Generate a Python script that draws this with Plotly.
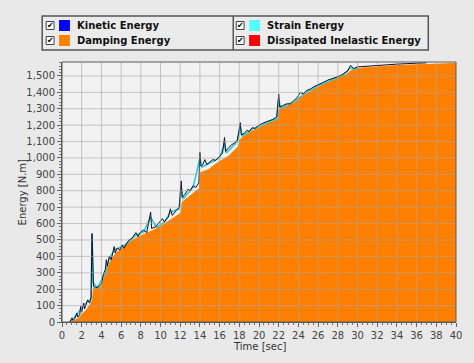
import plotly.graph_objects as go

# ---------------- data ----------------
damp_t = [0.8, 1.2, 1.6, 2.0, 2.5, 2.9, 3.1, 3.2, 3.6, 4.0, 4.5, 5.0, 5.5, 6.0, 6.7,
          7.2, 8.0, 8.8, 9.5, 10.2, 11.0, 11.8, 12.1, 12.2, 12.8, 13.5, 13.95, 14.05,
          14.9, 15.9, 16.9, 17.9, 18.05, 18.6, 19.2, 19.9, 20.8, 21.6, 21.95, 22.05,
          22.8, 23.6, 24.2, 25.0, 25.9, 26.8, 27.6, 28.3, 28.9, 29.3, 29.6, 30.5,
          32.0, 34.0, 36.0, 38.0, 40.0]
damp_e = [0, 6, 20, 42, 75, 110, 135, 205, 205, 215, 310, 380, 420, 445, 480,
          500, 525, 545, 565, 590, 620, 650, 665, 730, 760, 795, 815, 910,
          930, 975, 1010, 1070, 1110, 1140, 1160, 1185, 1210, 1225, 1240, 1295,
          1315, 1335, 1370, 1400, 1430, 1455, 1475, 1495, 1510, 1530, 1540, 1548,
          1555, 1563, 1568, 1572, 1576]

total_t = [0.8, 1.0, 1.1, 1.3, 1.5, 1.6, 1.8, 1.9, 2.0, 2.2, 2.3, 2.5, 2.6, 2.8, 2.95,
           3.05, 3.12, 3.2, 3.6, 4.0, 4.2, 4.4, 4.5, 4.6, 4.8, 5.0, 5.3, 5.4, 5.6, 5.9,
           6.1, 6.3, 6.6, 6.8, 7.1, 7.5, 7.7, 8.0, 8.3, 8.6, 9.0, 9.1, 9.5, 9.8, 10.2,
           10.4, 10.8, 11.0, 11.2, 11.6, 11.9, 12.1, 12.2, 12.5, 12.8, 13.0, 13.3, 13.6,
           13.9, 14.0, 14.1, 14.3, 14.5, 14.7, 15.0, 15.3, 15.6, 16.0, 16.3, 16.5, 16.6,
           16.9, 17.2, 17.5, 17.8, 18.1, 18.2, 18.5, 18.8, 19.0, 19.3, 19.6, 20.0, 20.5,
           21.0, 21.4, 21.8, 22.0, 22.1, 22.4, 22.8, 23.2, 23.6, 23.9, 24.2, 24.5, 24.8,
           25.2, 25.6, 26.0, 26.5, 27.0, 27.5, 28.0, 28.5, 29.0, 29.3, 29.6, 30.0, 31.0,
           32.0, 33.0, 34.0, 35.0, 36.0, 37.0]
total_e = [0, 25, 10, 20, 55, 30, 45, 95, 60, 115, 80, 110, 135, 115, 150,
           540, 260, 215, 210, 230, 290, 320, 380, 340, 400, 380, 460, 420, 450, 440,
           470, 450, 480, 500, 510, 545, 520, 550, 560, 545, 670, 570, 580, 600, 630,
           610, 640, 690, 650, 680, 700, 860, 760, 780, 810, 800, 830, 820,
           850, 1035, 950, 960, 990, 960, 975, 990, 985, 1010, 1030, 1125, 1040,
           1060, 1080, 1090, 1110, 1215, 1140, 1150, 1170, 1160, 1185, 1180, 1200, 1215,
           1225, 1235, 1250, 1390, 1310, 1320, 1330, 1330, 1350, 1370, 1400, 1390, 1410,
           1420, 1435, 1445, 1460, 1475, 1485, 1495, 1510, 1530, 1565, 1545, 1555, 1560,
           1565, 1570, 1572, 1575, 1578, 1580]

strain_t = [0.8, 1.5, 1.9, 2.2, 2.6, 2.95, 3.05, 3.15, 3.6, 4.4, 4.8, 5.3, 6.1, 6.8,
            7.5, 8.3, 9.0, 9.6, 10.4, 11.0, 11.9, 12.1, 12.3, 13.3, 14.0, 14.2, 15.0,
            16.0, 16.5, 16.7, 17.8, 18.1, 18.3, 19.3, 20.5, 21.8, 22.0, 22.2, 23.6,
            24.8, 26.0, 27.5, 28.5, 29.3, 29.6, 30.0]
strain_e = [0, 45, 80, 100, 125, 140, 530, 240, 210, 300, 385, 440, 460, 490,
            530, 550, 640, 575, 610, 670, 690, 820, 750, 820, 1000, 945, 970,
            1000, 1090, 1030, 1100, 1190, 1135, 1175, 1205, 1240, 1360, 1305, 1345,
            1400, 1440, 1480, 1505, 1550, 1540, 1550]

legend_names = ["Kinetic Energy", "Damping Energy", "Strain Energy", "Dissipated Inelastic Energy"]
legend_colors = ["#0000ff", "#ff8000", "#55ffff", "#ff0000"]

x_ticks = list(range(0, 41, 2))
y_ticks = list(range(0, 1501, 100))

# ---------------- layout geometry (pixels) ----------------
L, R, T, B = 62, 460, 62, 322


def px(x):
    return (x - L) / (R - L)


def py(y):
    return (B - y) / (B - T)


fig = go.Figure()
fig.add_trace(go.Scatter(x=damp_t, y=damp_e, mode="lines", fill="tozeroy",
                         fillcolor="#ff8000", line=dict(color="#ff8000", width=1),
                         name=legend_names[1], showlegend=False, hoverinfo="skip"))
fig.add_trace(go.Scatter(x=strain_t, y=strain_e, mode="lines",
                         line=dict(color="#33cccc", width=1.6),
                         name=legend_names[2], showlegend=False))
fig.add_trace(go.Scatter(x=total_t, y=total_e, mode="lines",
                         line=dict(color="#101028", width=1),
                         name=legend_names[0], showlegend=False))

shapes = []
grid_col = "rgba(165,165,165,0.6)"
for xv in x_ticks[1:-1]:
    shapes.append(dict(type="line", xref="x", yref="paper", x0=xv, x1=xv, y0=0, y1=1,
                       line=dict(color=grid_col, width=1), layer="above"))
for yv in y_ticks[1:]:
    shapes.append(dict(type="line", xref="paper", yref="y", x0=0, x1=1, y0=yv, y1=yv,
                       line=dict(color=grid_col, width=1), layer="above"))
# plot border
shapes.append(dict(type="rect", xref="paper", yref="paper", x0=0, x1=1, y0=0, y1=1,
                   line=dict(color="#5a5a5a", width=1), layer="above"))

# legend box
shapes.append(dict(type="rect", xref="paper", yref="paper", x0=px(42), x1=px(432),
                   y0=py(50), y1=py(16), line=dict(color="#555555", width=1.5),
                   fillcolor="#ebebeb", layer="above"))
shapes.append(dict(type="line", xref="paper", yref="paper", x0=px(235), x1=px(235),
                   y0=py(50), y1=py(16), line=dict(color="#555555", width=1.5)))

annotations = []
cols = [46, 238]
rows = [25.5, 40.5]
order = [(0, 0), (0, 1), (1, 0), (1, 1)]
for i, (c, r) in enumerate(order):
    cx = cols[c]
    cy = rows[r]
    # checkbox
    shapes.append(dict(type="rect", xref="paper", yref="paper", x0=px(cx), x1=px(cx + 8),
                       y0=py(cy + 4), y1=py(cy - 4), fillcolor="#ffffff",
                       line=dict(color="#444444", width=1), layer="above"))
    annotations.append(dict(x=px(cx + 4), y=py(cy), xref="paper", yref="paper",
                            text="✔", showarrow=False, xanchor="center", yanchor="middle",
                            font=dict(family="DejaVu Sans", size=8, color="#000000")))
    # colour swatch
    shapes.append(dict(type="rect", xref="paper", yref="paper", x0=px(cx + 13),
                       x1=px(cx + 24), y0=py(cy + 5.5), y1=py(cy - 5.5),
                       fillcolor=legend_colors[i], line=dict(width=0), layer="above"))
    annotations.append(dict(x=px(cx + 29), y=py(cy), xref="paper", yref="paper",
                            text="<b>" + legend_names[i] + "</b>", showarrow=False,
                            xanchor="left", yanchor="middle",
                            font=dict(family="DejaVu Sans", size=10, color="#111111")))

annotations.append(dict(x=px(22), y=py(192), xref="paper", yref="paper",
                        text="Energy [N.m]", textangle=-90, showarrow=False,
                        xanchor="center", yanchor="middle",
                        font=dict(family="DejaVu Sans", size=10, color="#333333")))
annotations.append(dict(x=px(262), y=py(346), xref="paper", yref="paper",
                        text="Time [sec]", showarrow=False,
                        xanchor="center", yanchor="middle",
                        font=dict(family="DejaVu Sans", size=10, color="#333333")))

axis_common = dict(showgrid=False, zeroline=False, showline=True, linecolor="#5a5a5a",
                   linewidth=1, ticks="outside", ticklen=4, tickcolor="#666666",
                   tickfont=dict(family="DejaVu Sans", size=10, color="#444444"))

fig.update_layout(
    width=474, height=363,
    margin=dict(l=L, r=474 - R, t=T, b=363 - B),
    paper_bgcolor="#e9e9e9",
    plot_bgcolor="#f2f2f2",
    showlegend=False,
    shapes=shapes,
    annotations=annotations,
    xaxis=dict(range=[0, 40], tickvals=x_ticks, ticktext=[str(v) for v in x_ticks],
               minor=dict(dtick=0.5, ticks="outside", ticklen=2, tickcolor="#777777"),
               **axis_common),
    yaxis=dict(range=[0, 1585], tickvals=y_ticks,
               ticktext=[f"{v:,}" for v in y_ticks],
               minor=dict(dtick=20, ticks="outside", ticklen=2, tickcolor="#777777"),
               **axis_common),
)

fig.write_html("out.html", config={"displayModeBar": False},
               post_script="document.body.style.margin='0';document.body.style.overflow='hidden';")
